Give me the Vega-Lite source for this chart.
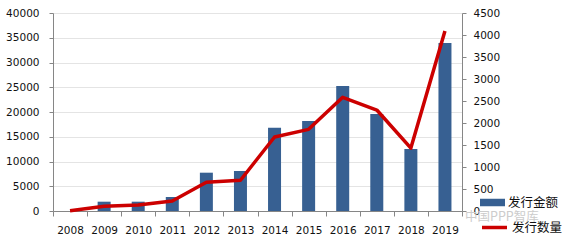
{
  "$schema": "https://vega.github.io/schema/vega-lite/v6.json",
  "width": 409,
  "height": 198,
  "autosize": "none",
  "padding": {"left": 53, "top": 13, "right": 102, "bottom": 29},
  "background": "white",
  "config": {
    "view": {"stroke": null},
    "font": "DejaVu Sans",
    "axis": {
      "labelFont": "DejaVu Sans",
      "labelFontSize": 10.5,
      "labelColor": "#111111",
      "domainColor": "#868686",
      "tickColor": "#868686",
      "gridColor": "#e4e4e4",
      "title": null,
      "format": "d"
    },
    "legend": {
      "labelFont": "Noto Sans CJK SC",
      "labelFontSize": 12.5,
      "labelColor": "#111111",
      "padding": 0
    }
  },
  "title": {
    "text": "中国PPP智库",
    "orient": "top",
    "anchor": "start",
    "frame": "group",
    "font": "Noto Sans CJK SC",
    "fontSize": 12.5,
    "fontWeight": "normal",
    "color": "#cccccc",
    "dx": 412,
    "dy": 219
  },
  "data": {
    "values": [
      {"year": "2008", "amount": 0, "count": 5, "bar": "发行金额", "line": "发行数量"},
      {"year": "2009", "amount": 1880, "count": 107, "bar": "发行金额", "line": "发行数量"},
      {"year": "2010", "amount": 1880, "count": 136, "bar": "发行金额", "line": "发行数量"},
      {"year": "2011", "amount": 2830, "count": 227, "bar": "发行金额", "line": "发行数量"},
      {"year": "2012", "amount": 7740, "count": 652, "bar": "发行金额", "line": "发行数量"},
      {"year": "2013", "amount": 8080, "count": 698, "bar": "发行金额", "line": "发行数量"},
      {"year": "2014", "amount": 16830, "count": 1682, "bar": "发行金额", "line": "发行数量"},
      {"year": "2015", "amount": 18180, "count": 1856, "bar": "发行金额", "line": "发行数量"},
      {"year": "2016", "amount": 25250, "count": 2584, "bar": "发行金额", "line": "发行数量"},
      {"year": "2017", "amount": 19600, "count": 2295, "bar": "发行金额", "line": "发行数量"},
      {"year": "2018", "amount": 12530, "count": 1430, "bar": "发行金额", "line": "发行数量"},
      {"year": "2019", "amount": 33940, "count": 4090, "bar": "发行金额", "line": "发行数量"}
    ]
  },
  "encoding": {
    "x": {
      "field": "year",
      "type": "ordinal",
      "scale": {"type": "band", "paddingInner": 0, "paddingOuter": 0},
      "axis": {
        "labelAngle": 0,
        "tickBand": "extent",
        "tickSize": 5,
        "labelPadding": 9,
        "domainColor": "#868686"
      }
    }
  },
  "layer": [
    {
      "mark": {"type": "bar", "size": 13},
      "encoding": {
        "y": {
          "field": "amount",
          "type": "quantitative",
          "scale": {"domain": [0, 40000], "nice": false},
          "axis": {
            "orient": "left",
            "values": [0, 5000, 10000, 15000, 20000, 25000, 30000, 35000, 40000],
            "tickSize": 4,
            "labelPadding": 10,
            "grid": true
          }
        },
        "fill": {
          "field": "bar",
          "type": "nominal",
          "scale": {"range": ["#376092"]},
          "legend": {
            "title": null,
            "orient": "none",
            "legendX": 427,
            "legendY": 177,
            "symbolType": "M-1,-0.3H1V0.3H-1Z",
            "symbolSize": 625,
            "symbolStrokeWidth": 0,
            "labelOffset": 3
          }
        }
      }
    },
    {
      "mark": {"type": "line", "strokeWidth": 3.5, "strokeJoin": "round"},
      "encoding": {
        "y": {
          "field": "count",
          "type": "quantitative",
          "scale": {"domain": [0, 4500], "nice": false},
          "axis": {
            "orient": "right",
            "values": [0, 500, 1000, 1500, 2000, 2500, 3000, 3500, 4000, 4500],
            "tickSize": 4,
            "labelPadding": 7,
            "grid": false
          }
        },
        "stroke": {
          "field": "line",
          "type": "nominal",
          "scale": {"range": ["#cc0000"]},
          "legend": {
            "title": null,
            "orient": "none",
            "legendX": 427,
            "legendY": 200,
            "symbolType": "stroke",
            "symbolSize": 625,
            "symbolStrokeWidth": 3.5,
            "labelOffset": 3
          }
        }
      }
    }
  ],
  "resolve": {"scale": {"y": "independent", "fill": "independent", "stroke": "independent"}, "legend": {"fill": "independent", "stroke": "independent"}}
}
